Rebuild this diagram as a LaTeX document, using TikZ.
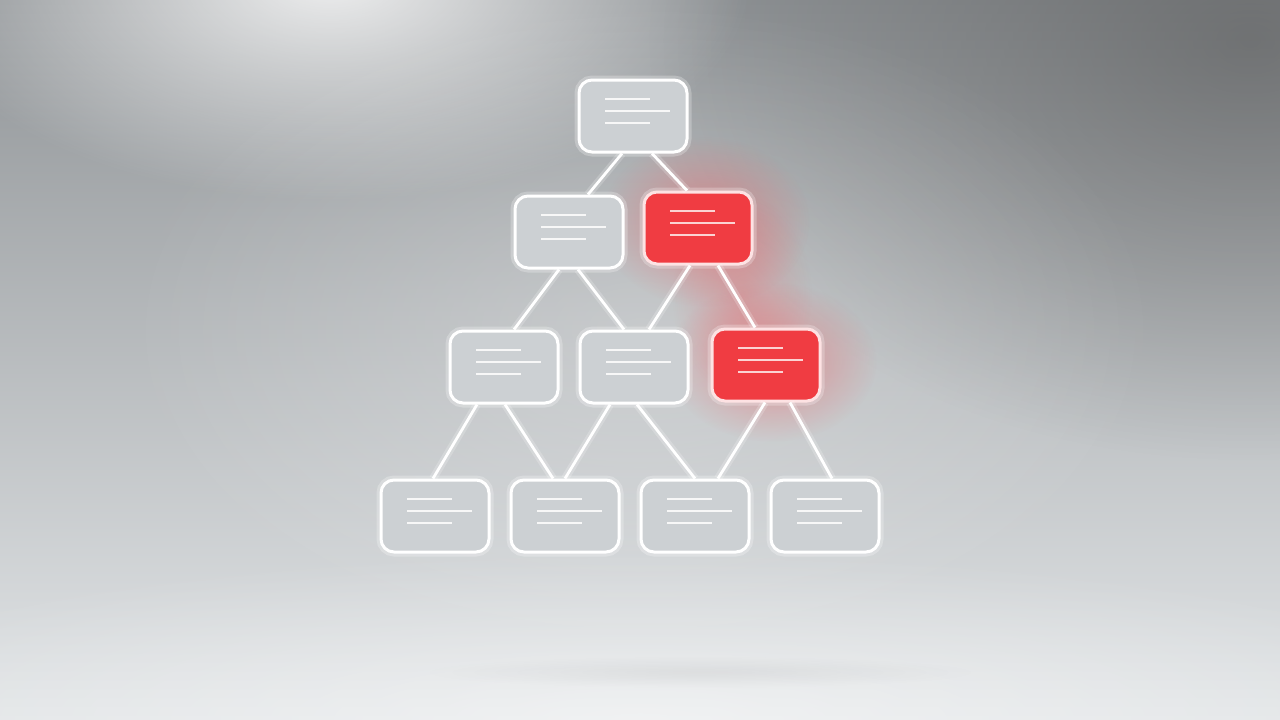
\documentclass[tikz,border=0pt]{standalone}
\usetikzlibrary{fadings}

\definecolor{bgtop}{HTML}{909497}
\definecolor{bgmid}{HTML}{A8ACAF}
\definecolor{bgbot}{HTML}{E2E5E7}
\definecolor{boxgray}{HTML}{CCD0D3}
\definecolor{boxred}{HTML}{F03C42}
\definecolor{redline}{HTML}{FBD3D3}
\definecolor{glowred}{HTML}{F2555A}

\tikzfading[name=softfade, inner color=transparent!0, outer color=transparent!100]

\pgfdeclarelayer{bg}
\pgfsetlayers{bg,main}

\newcommand{\boxlines}[1]{%
  \draw[#1, line width=1.7pt]
    ([shift={(-28pt,17pt)}]path picture bounding box.center) -- ++(45pt,0pt)
    ([shift={(-28pt,5pt)}]path picture bounding box.center) -- ++(65pt,0pt)
    ([shift={(-28pt,-7pt)}]path picture bounding box.center) -- ++(45pt,0pt);}

\begin{document}
\begin{tikzpicture}[x=1pt,y=-1pt,
    gbox/.style={rounded corners=13pt, minimum width=108pt, minimum height=72pt,
      fill=boxgray, draw=white, line width=3pt,
      preaction={draw=white, line width=9pt, opacity=0.25},
      path picture={\boxlines{white!94!gray}}},
    rbox/.style={gbox, fill=boxred, draw=white!85!boxred,
      path picture={\boxlines{redline}}},
    link/.style={draw=white, line width=2.8pt,
      preaction={draw=white, line width=8pt, opacity=0.2}}]

    \useasboundingbox (0,0) rectangle (1280,720);

    \begin{pgfonlayer}{bg}
    \shade[top color=bgtop, middle color=bgmid, bottom color=bgbot] (0,0) rectangle (1280,720);
    \fill[black!70, opacity=0.5, path fading=softfade] (1250,40) ellipse (600 and 420);
    \fill[white, opacity=0.85, path fading=softfade] (330,-20) ellipse (420 and 220);
    \fill[white, opacity=0.25, path fading=softfade] (640,330) ellipse (520 and 330);
    \fill[white, opacity=0.5, path fading=softfade] (640,720) ellipse (900 and 170);
    \fill[black, opacity=0.05, path fading=softfade] (700,672) ellipse (280 and 16);
    \fill[glowred, opacity=0.5, path fading=softfade] (705,222) ellipse (105 and 85);
    \fill[glowred, opacity=0.5, path fading=softfade] (772,362) ellipse (105 and 80);
    \fill[glowred, opacity=0.3, path fading=softfade] (742,295) ellipse (70 and 100);
    \end{pgfonlayer}

    \node[gbox] (n0) at (633,116) {};

    \node[gbox] (n1a) at (569,232) {};
    \node[rbox] (n1b) at (698,228) {};

    \node[gbox] (n2a) at (504,367) {};
    \node[gbox] (n2b) at (634,367) {};
    \node[rbox] (n2c) at (766,365) {};

    \node[gbox] (n3a) at (435,516) {};
    \node[gbox] (n3b) at (565,516) {};
    \node[gbox] (n3c) at (695,516) {};
    \node[gbox] (n3d) at (825,516) {};

    \draw[link] ([xshift=-11pt]n0.south) -- ([xshift=19pt]n1a.north);
    \draw[link] ([xshift=19pt]n0.south) -- ([xshift=-11pt]n1b.north);

    \draw[link] ([xshift=-10pt]n1a.south) -- ([xshift=10pt]n2a.north);
    \draw[link] ([xshift=9pt]n1a.south) -- ([xshift=-10pt]n2b.north);
    \draw[link] ([xshift=-8pt]n1b.south) -- ([xshift=15pt]n2b.north);
    \draw[link] ([xshift=20pt]n1b.south) -- ([xshift=-11pt]n2c.north);

    \draw[link] ([xshift=-27pt]n2a.south) -- ([xshift=-2pt]n3a.north);
    \draw[link] ([xshift=1pt]n2a.south) -- ([xshift=-12pt]n3b.north);
    \draw[link] ([xshift=-24pt]n2b.south) -- (n3b.north);
    \draw[link] ([xshift=3pt]n2b.south) -- (n3c.north);
    \draw[link] ([xshift=-1pt]n2c.south) -- ([xshift=23pt]n3c.north);
    \draw[link] ([xshift=24pt]n2c.south) -- ([xshift=7pt]n3d.north);
\end{tikzpicture}
\end{document}
